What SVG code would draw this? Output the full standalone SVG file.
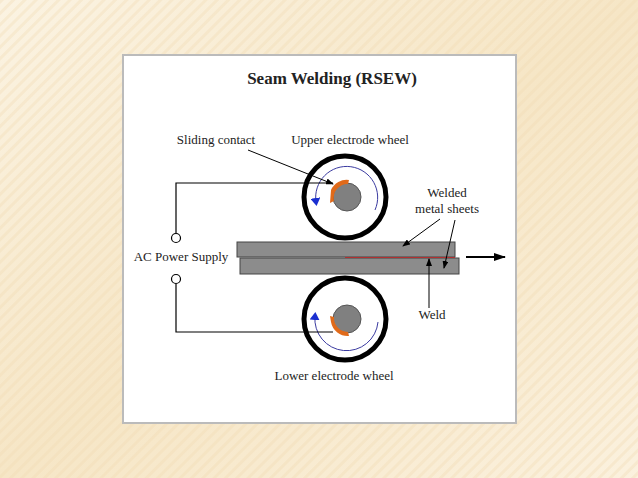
<svg xmlns="http://www.w3.org/2000/svg" width="638" height="478" viewBox="0 0 638 478">
<defs>
<linearGradient id="bg" x1="0" y1="0" x2="1" y2="1"><stop offset="0" stop-color="#fbf3e2"/><stop offset="0.5" stop-color="#f6e6c6"/><stop offset="1" stop-color="#fbf1de"/></linearGradient>
<pattern id="st" width="8" height="8" patternUnits="userSpaceOnUse" patternTransform="rotate(45)"><rect width="3" height="8" fill="#f0d9b0" opacity="0.35"/></pattern>
<marker id="ah" markerWidth="8" markerHeight="6" refX="7" refY="3" orient="auto" markerUnits="userSpaceOnUse"><path d="M0,0 L8,3 L0,6 z" fill="#000"/></marker>
<marker id="bh" markerWidth="8" markerHeight="10" refX="4" refY="5" orient="auto" markerUnits="userSpaceOnUse"><path d="M0,0 L8,5 L0,10 z" fill="#1a2fd0"/></marker>
<marker id="big" markerWidth="12" markerHeight="8" refX="11" refY="4" orient="auto" markerUnits="userSpaceOnUse"><path d="M0,0 L12,4 L0,8 z" fill="#000"/></marker>
</defs>
<style>
text{font-family:"Liberation Serif",serif;font-size:13px;fill:#222}
.w{fill:none;stroke:#000;stroke-width:1.2}
.ld{fill:none;stroke:#000;stroke-width:1;marker-end:url(#ah)}
.wheel{fill:#fff;stroke:#000;stroke-width:5}
.hub{fill:#808080;stroke:#555;stroke-width:1}
.sheet{fill:#8c8c8c;stroke:#444;stroke-width:1}
.rot{fill:none;stroke:#3a3aa0;stroke-width:1}
</style>
<rect width="638" height="478" fill="url(#bg)"/>
<rect width="638" height="478" fill="url(#st)"/>
<rect x="123" y="55" width="393" height="368" fill="#fff" stroke="#bbb" stroke-width="2"/>
<text x="332" y="84" text-anchor="middle" style="font-size:17px;font-weight:bold">Seam Welding (RSEW)</text>
<g id="sheets">
<rect class="sheet" x="237" y="242" width="218" height="15"/>
<rect class="sheet" x="240" y="258" width="219" height="16"/>
<line x1="345" y1="257.5" x2="455" y2="257.5" stroke="#b03030" stroke-width="1"/>
</g>
<g id="upper-wheel">
<circle class="wheel" cx="345" cy="197" r="41"/>
<path class="rot" d="M375,210 A31,31 0 1 0 316,202" marker-end="url(#bh)"/>
<circle class="hub" cx="347" cy="197" r="14"/>
<path d="M331,190 A17,17 0 0 1 349,180 L348,184 A14,14 0 0 0 334,201 L330,203 Z" fill="#e06a1a"/>
</g>
<g id="lower-wheel">
<circle class="wheel" cx="345" cy="319" r="41"/>
<path class="rot" d="M378,322 A31,31 0 1 1 315,316" marker-end="url(#bh)"/>
<circle class="hub" cx="347" cy="319" r="14"/>
<path d="M331,322 A17,17 0 0 0 349,336 L348,332 A14,14 0 0 1 334,317 L330,316 Z" fill="#e06a1a"/>
</g>
<g id="connectors">
<polyline class="w" points="333,183 176,183 176,233"/>
<circle cx="176" cy="238" r="4.5" fill="#fff" stroke="#000" stroke-width="1.2"/>
<circle cx="176" cy="279" r="4.5" fill="#fff" stroke="#000" stroke-width="1.2"/>
<polyline class="w" points="176,284 176,332 333,332"/>
<line class="ld" x1="248" y1="150" x2="333" y2="184"/>
<line class="ld" x1="440" y1="219" x2="403" y2="246"/>
<line class="ld" x1="455" y1="220" x2="444" y2="268"/>
<line class="ld" x1="429" y1="308" x2="429" y2="259"/>
<line x1="466" y1="257" x2="505" y2="257" stroke="#000" stroke-width="2" marker-end="url(#big)"/>
</g>
<text x="216" y="144" text-anchor="middle">Sliding contact</text>
<text x="350" y="144" text-anchor="middle">Upper electrode wheel</text>
<text x="447" y="197" text-anchor="middle">Welded</text>
<text x="447" y="213" text-anchor="middle">metal sheets</text>
<text x="181" y="261" text-anchor="middle">AC Power Supply</text>
<text x="432" y="319" text-anchor="middle">Weld</text>
<text x="334" y="380" text-anchor="middle">Lower electrode wheel</text>
</svg>
